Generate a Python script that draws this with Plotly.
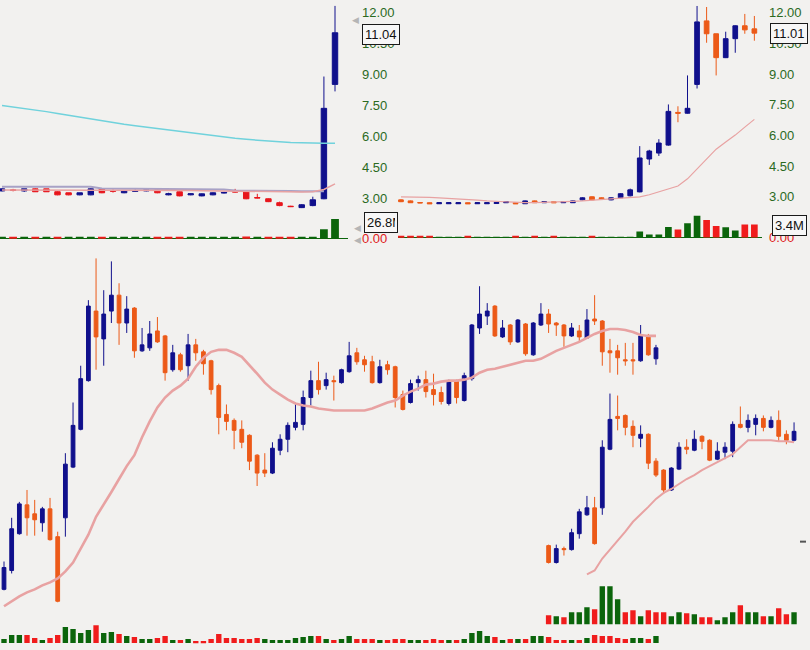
import plotly.graph_objects as go

# ---------------- DATA ----------------
# Top-left chart (daily candles, price in $)
tl_open = [3.38, 3.43, 3.38, 3.48, 3.48, 3.34, 3.29, 3.19, 3.19, 3.48, 3.39, 3.29, 3.36, 3.38, 3.43, 3.19,
           3.34, 3.19, 3.14, 3.19, 3.28, 3.35, 3.34, 3.06, 3.00, 2.81, 2.64, 2.57, 2.67, 3.00, 8.54]
tl_high = [3.50, 3.48, 3.48, 3.50, 3.48, 3.36, 3.29, 3.29, 3.50, 3.50, 3.45, 3.41, 3.45, 3.45, 3.48, 3.29,
           3.36, 3.26, 3.26, 3.31, 3.34, 3.48, 3.36, 3.24, 3.02, 2.86, 2.66, 2.74, 3.10, 8.92, 12.34]
tl_low = [3.36, 3.36, 3.33, 3.33, 3.33, 3.17, 3.17, 3.17, 3.17, 3.27, 3.30, 3.27, 3.34, 3.36, 3.27, 3.17,
          3.12, 3.17, 3.12, 3.17, 3.26, 3.31, 2.98, 3.02, 2.84, 2.64, 2.60, 2.55, 2.64, 2.98, 8.20]
tl_close = [3.48, 3.41, 3.48, 3.34, 3.34, 3.19, 3.19, 3.29, 3.48, 3.29, 3.37, 3.38, 3.39, 3.43, 3.29, 3.24,
            3.14, 3.24, 3.24, 3.29, 3.30, 3.33, 3.00, 3.04, 2.86, 2.67, 2.62, 2.71, 2.95, 7.38, 11.04]
tl_ma_long = [7.52, 7.45, 7.38, 7.30, 7.22, 7.13, 7.04, 6.95, 6.86, 6.77, 6.69, 6.61, 6.54, 6.47, 6.40, 6.32,
              6.25, 6.18, 6.11, 6.05, 5.98, 5.93, 5.88, 5.83, 5.79, 5.76, 5.73, 5.71, 5.70, 5.69, 5.69]
tl_ma_mid = [3.58, 3.58, 3.58, 3.58, 3.58, 3.58, 3.58, 3.58, 3.58, 3.50, 3.48, 3.48, 3.48, 3.48, 3.45, 3.45,
             3.45, 3.45, 3.45, 3.45, 3.45, 3.40, 3.40, 3.40, 3.40, 3.40, 3.38, 3.36, 3.35, 3.36]
tl_ma_short = [3.43, 3.43, 3.43, 3.43, 3.43, 3.43, 3.43, 3.43, 3.43, 3.43, 3.43, 3.43, 3.42, 3.42, 3.40, 3.40,
               3.40, 3.40, 3.39, 3.38, 3.38, 3.36, 3.36, 3.35, 3.34, 3.33, 3.33, 3.33, 3.34, 3.45, 3.72]
tl_vol = [1.0, 1.8, 1.2, 1.8, 1.8, 1.8, 1.2, 1.0, 1.2, 1.8, 1.0, 1.0, 1.0, 1.0, 1.8, 1.8,
          1.8, 1.0, 1.0, 1.0, 1.0, 1.8, 2.6, 1.8, 1.8, 1.8, 1.0, 1.0, 1.0, 12.7, 26.8]  # millions

# Top-right chart
tr_open = [2.85, 2.80, 2.72, 2.71, 2.66, 2.66, 2.66, 2.71, 2.66, 2.66, 2.67, 2.71, 2.71, 2.66, 2.80, 2.71,
           2.76, 2.71, 2.71, 2.85, 3.00, 2.95, 2.85, 2.95, 3.05, 3.24, 4.85, 5.14, 5.53, 7.13, 7.09, 8.50,
           11.61, 10.98, 9.81, 10.74, 11.37, 11.22]
tr_high = [2.88, 2.82, 2.74, 2.72, 2.72, 2.72, 2.72, 2.72, 2.72, 2.72, 2.74, 2.78, 2.72, 2.82, 2.82, 2.78,
           2.78, 2.78, 2.82, 2.98, 3.02, 2.97, 2.97, 3.18, 3.40, 5.48, 5.30, 5.82, 7.52, 7.43, 8.94, 12.34,
           12.29, 10.98, 11.08, 11.39, 11.95, 11.85]
tr_low = [2.74, 2.70, 2.69, 2.65, 2.65, 2.65, 2.65, 2.65, 2.65, 2.65, 2.66, 2.70, 2.65, 2.65, 2.70, 2.70,
          2.70, 2.70, 2.70, 2.83, 2.83, 2.88, 2.83, 2.93, 3.02, 3.22, 4.56, 5.00, 5.50, 6.65, 7.07, 8.30,
          10.54, 8.94, 9.79, 10.05, 10.98, 10.64]
tr_close = [2.76, 2.71, 2.70, 2.66, 2.71, 2.71, 2.71, 2.66, 2.71, 2.71, 2.72, 2.76, 2.66, 2.80, 2.71, 2.76,
            2.71, 2.76, 2.80, 2.95, 2.85, 2.90, 2.95, 3.15, 3.34, 4.90, 5.24, 5.63, 7.18, 7.09, 7.33, 11.56,
            10.98, 9.81, 10.74, 11.37, 11.17, 11.01]
tr_ma = [3.00, 3.00, 3.00, 2.97, 2.95, 2.93, 2.90, 2.87, 2.84, 2.80, 2.77, 2.74, 2.72, 2.71, 2.71, 2.72,
         2.73, 2.75, 2.78, 2.80, 2.83, 2.86, 2.90, 2.93, 2.96, 3.00, 3.10, 3.24, 3.39, 3.53, 3.88, 4.36,
         4.85, 5.33, 5.68, 6.02, 6.41, 6.79]
tr_vol = [0.45, 0.45, 0.45, 0.45, 0.2, 0.2, 0.2, 0.45, 0.2, 0.2, 0.2, 0.2, 0.45, 0.2, 0.45, 0.2,
          0.45, 0.2, 0.2, 0.2, 0.45, 0.2, 0.2, 0.2, 0.2, 1.57, 0.78, 0.78, 2.8, 2.1, 3.74, 5.75,
          4.6, 3.06, 2.7, 1.83, 3.4, 3.4]  # millions

# Bottom chart, first stock (sessions 1..86)
bl_open = [1.14, 1.52, 2.26, 2.84, 2.66, 2.48, 2.76, 2.20, 2.58, 3.60, 4.36, 5.34, 6.74, 6.18, 6.74, 7.06,
           6.50, 6.80, 5.94, 6.00, 6.34, 6.24, 5.56, 5.86, 5.64, 6.06, 5.92, 5.74, 5.24, 4.66, 4.54, 4.36,
           4.24, 3.84, 3.54, 3.48, 3.94, 4.16, 4.40, 4.46, 5.00, 5.34, 5.24, 5.34, 5.30, 5.52, 5.90, 5.76,
           5.72, 5.30, 5.66, 5.62, 5.06, 4.90, 5.30, 5.36, 5.16, 5.10, 4.88, 5.34, 4.94, 5.38, 6.40, 6.64,
           6.84, 6.22, 6.46, 6.12, 6.48, 5.86, 6.46, 6.68, 6.50, 6.46, 6.24, 6.34, 6.20, 6.58, 6.54, 5.94,
           5.94, 5.76, 5.76, 5.74, 6.24, 5.78]
bl_high = [1.70, 2.58, 2.90, 3.14, 2.94, 2.80, 2.98, 2.30, 3.88, 4.90, 5.64, 6.96, 7.80, 7.16, 7.74, 7.30,
           7.04, 6.82, 6.40, 6.54, 6.62, 6.26, 6.06, 5.90, 6.28, 6.18, 5.96, 5.76, 5.28, 4.86, 4.58, 4.54,
           4.26, 3.86, 3.88, 4.10, 4.26, 4.50, 4.88, 5.14, 5.54, 5.72, 5.50, 5.44, 5.58, 6.12, 6.00, 5.84,
           5.84, 5.76, 5.74, 5.64, 5.14, 5.36, 5.44, 5.54, 5.48, 5.22, 5.36, 5.36, 5.50, 6.48, 7.24, 6.90,
           6.86, 6.56, 6.48, 6.58, 6.50, 6.52, 6.90, 6.78, 6.52, 6.48, 6.50, 6.46, 6.78, 7.06, 6.56, 6.18,
           6.06, 6.10, 6.10, 6.46, 6.28, 6.06]
bl_low = [1.12, 1.46, 2.24, 2.22, 2.22, 2.30, 2.12, 0.88, 2.20, 3.58, 4.34, 5.32, 5.56, 5.64, 6.50, 6.06,
          6.30, 5.80, 5.92, 5.94, 6.10, 5.34, 5.52, 5.52, 5.34, 5.74, 5.46, 5.06, 4.26, 4.34, 3.96, 3.98,
          3.54, 3.22, 3.40, 3.46, 3.84, 3.90, 4.34, 4.34, 4.84, 5.06, 5.16, 4.94, 5.28, 5.50, 5.66, 5.52,
          5.28, 5.28, 5.46, 4.80, 4.74, 4.88, 5.14, 5.00, 4.84, 4.86, 4.84, 4.88, 4.92, 5.34, 6.28, 6.46,
          6.22, 6.20, 6.06, 6.10, 5.84, 5.84, 6.44, 6.30, 6.24, 6.02, 6.22, 6.14, 6.18, 6.46, 5.64, 5.50,
          5.46, 5.64, 5.46, 5.72, 5.84, 5.66]
bl_close = [1.58, 2.36, 2.86, 2.58, 2.54, 2.76, 2.14, 0.90, 3.66, 4.44, 5.38, 6.84, 6.22, 6.68, 7.06, 6.50,
            6.78, 5.94, 6.06, 6.28, 6.12, 5.50, 5.90, 5.56, 6.06, 5.90, 5.68, 5.16, 4.60, 4.52, 4.34, 4.10,
            3.72, 3.48, 3.48, 3.98, 4.16, 4.44, 4.50, 5.00, 5.34, 5.16, 5.36, 5.32, 5.56, 5.84, 5.72, 5.66,
            5.30, 5.62, 5.56, 5.00, 4.76, 5.28, 5.36, 5.12, 5.06, 4.92, 5.34, 5.00, 5.44, 6.46, 6.68, 6.74,
            6.24, 6.40, 6.12, 6.56, 5.88, 6.50, 6.68, 6.48, 6.46, 6.24, 6.40, 6.22, 6.56, 6.54, 5.92, 5.90,
            5.80, 5.74, 5.74, 6.24, 5.86, 6.00]
bl_ma = [0.80, 0.90, 1.00, 1.08, 1.14, 1.22, 1.28, 1.36, 1.50, 1.68, 1.96, 2.24, 2.60, 2.84, 3.10, 3.36,
         3.62, 3.84, 4.20, 4.52, 4.80, 5.00, 5.14, 5.24, 5.38, 5.62, 5.80, 5.92, 5.96, 5.96, 5.90, 5.82,
         5.66, 5.48, 5.30, 5.16, 5.06, 4.96, 4.88, 4.84, 4.82, 4.78, 4.76, 4.74, 4.74, 4.74, 4.74, 4.74,
         4.78, 4.84, 4.90, 4.94, 5.04, 5.12, 5.18, 5.26, 5.28, 5.32, 5.34, 5.34, 5.36, 5.40, 5.50, 5.56,
         5.58, 5.62, 5.66, 5.70, 5.74, 5.74, 5.78, 5.86, 5.94, 6.00, 6.06, 6.12, 6.20, 6.28, 6.34, 6.38,
         6.38, 6.36, 6.32, 6.26, 6.24, 6.24]
bl_vol = [4, 8, 8, 8, 5, 3, 5, 8, 16, 14, 10, 13, 18, 10, 11, 9, 7, 6, 4, 4, 5, 7, 3, 3, 4, 2, 2, 4, 9, 5,
          5, 4, 4, 5, 4, 3, 3, 3, 5, 6, 7, 7, 4, 3, 4, 7, 4, 4, 4, 3, 3, 4, 4, 3, 3, 3, 4, 3, 3, 3,
          4, 10, 12, 7, 6, 3, 4, 4, 4, 7, 7, 6, 3, 3, 3, 3, 5, 8, 7, 7, 5, 4, 5, 5, 4, 7]
bl_session = list(range(1, 87))

# Bottom chart, second stock (overlaid from session 72)
br_open = [2.02, 1.68, 1.96, 1.94, 2.26, 2.64, 2.78, 2.78, 3.96, 4.62, 4.64, 4.42, 4.18, 4.26, 3.72, 3.54,
           3.14, 3.56, 4.00, 3.94, 4.22, 4.14, 3.76, 3.90, 3.92, 4.46, 4.40, 4.46, 4.58, 4.40, 4.54, 4.26, 4.14]
br_high = [2.04, 2.04, 2.00, 2.36, 2.76, 3.02, 3.00, 4.14, 5.08, 5.04, 4.66, 4.54, 4.44, 4.28, 3.78, 3.56,
           3.60, 4.10, 4.16, 4.34, 4.24, 4.16, 4.10, 4.10, 4.52, 4.82, 4.66, 4.66, 4.64, 4.62, 4.74, 4.34, 4.50]
br_low = [1.66, 1.66, 1.82, 1.92, 2.16, 2.62, 2.04, 2.64, 3.94, 4.34, 4.24, 4.00, 4.00, 3.56, 3.40, 3.06,
          3.12, 3.54, 3.86, 3.92, 3.96, 3.72, 3.74, 3.76, 3.80, 4.38, 4.30, 4.24, 4.32, 4.38, 4.12, 4.06, 4.12]
br_close = [1.68, 1.96, 1.94, 2.28, 2.70, 2.78, 2.06, 4.00, 4.56, 4.58, 4.40, 4.24, 4.26, 3.68, 3.44, 3.14,
            3.58, 4.00, 3.96, 4.16, 4.12, 3.74, 3.92, 4.00, 4.46, 4.40, 4.54, 4.58, 4.40, 4.54, 4.22, 4.14, 4.32]
br_ma = [None, None, None, None, None, 1.44, 1.52, 1.76, 1.94, 2.10, 2.30, 2.50, 2.64, 2.80, 2.96, 3.08,
         3.16, 3.26, 3.36, 3.44, 3.54, 3.62, 3.70, 3.78, 3.86, 4.00, 4.14, 4.14, 4.14, 4.14, 4.12, 4.12, 4.10]
br_vol = [9, 8, 7, 12, 12, 17, 15, 38, 38, 25, 12, 14, 8, 14, 12, 12, 8, 12, 11, 10, 7, 7, 4, 7, 12, 19,
          12, 12, 8, 8, 16, 10, 12]
br_session = list(range(72, 105))

price_ticks = [3.0, 4.5, 6.0, 7.5, 9.0, 10.5, 12.0]

# ---------------- STYLE ----------------
BG = "#f2f1ef"
BLUE = "#10108c"
ORANGE = "#ec5a18"
RED_C = "#e8161c"
VGREEN = "#0b650b"
VRED = "#f01c1c"
PINK = "#e8a2a2"
CYAN = "#70d2dc"
LAV = "#a8a2c6"
TICK_GREEN = "#2b6a1e"
FONT = "Liberation Sans"
W, H = 810, 650


def px(x):
    return x / W


def py(y):
    return 1 - y / H


def vol_colors(opens, closes):
    cols = []
    for k, c in enumerate(closes):
        prev = closes[k - 1] if k > 0 else opens[0]
        cols.append(VRED if c < prev else VGREEN)
    return cols


def candle(x, o, h, l, c, down, xa, ya):
    return go.Candlestick(
        x=x, open=o, high=h, low=l, close=c, xaxis=xa, yaxis=ya, whiskerwidth=0,
        increasing=dict(line=dict(color=BLUE, width=1), fillcolor=BLUE),
        decreasing=dict(line=dict(color=down, width=1), fillcolor=down),
    )


fig = go.Figure()

# top-left
tl_x = list(range(len(tl_open)))
fig.add_trace(candle(tl_x, tl_open, tl_high, tl_low, tl_close, RED_C, "x", "y"))
fig.add_trace(go.Scatter(x=tl_x, y=tl_ma_long, mode="lines", line=dict(color=CYAN, width=1.5), xaxis="x", yaxis="y"))
fig.add_trace(go.Scatter(x=tl_x[:len(tl_ma_mid)], y=tl_ma_mid, mode="lines", line=dict(color=LAV, width=2), xaxis="x", yaxis="y"))
fig.add_trace(go.Scatter(x=tl_x, y=tl_ma_short, mode="lines", line=dict(color=PINK, width=1.5), xaxis="x", yaxis="y"))
fig.add_trace(go.Bar(x=tl_x, y=tl_vol, marker=dict(color=vol_colors(tl_open, tl_close), line=dict(width=0)), xaxis="x", yaxis="y2"))

# top-right
tr_x = list(range(len(tr_open)))
fig.add_trace(candle(tr_x, tr_open, tr_high, tr_low, tr_close, ORANGE, "x2", "y3"))
fig.add_trace(go.Scatter(x=tr_x, y=tr_ma, mode="lines", line=dict(color=PINK, width=1.2), xaxis="x2", yaxis="y3"))
fig.add_trace(go.Bar(x=tr_x, y=tr_vol, marker=dict(color=vol_colors(tr_open, tr_close), line=dict(width=0)), xaxis="x2", yaxis="y4"))

# bottom
fig.add_trace(go.Bar(x=bl_session, y=bl_vol, marker=dict(color=vol_colors(bl_open, bl_close), line=dict(width=0)), xaxis="x3", yaxis="y6"))
fig.add_trace(go.Bar(x=br_session, y=br_vol, marker=dict(color=vol_colors(br_open, br_close), line=dict(width=0)), xaxis="x3", yaxis="y7"))
fig.add_trace(candle(bl_session, bl_open, bl_high, bl_low, bl_close, ORANGE, "x3", "y5"))
fig.add_trace(go.Scatter(x=bl_session, y=bl_ma, mode="lines", line=dict(color=PINK, width=2.6), xaxis="x3", yaxis="y5"))
fig.add_trace(candle(br_session, br_open, br_high, br_low, br_close, ORANGE, "x3", "y5"))
fig.add_trace(go.Scatter(x=br_session, y=br_ma, mode="lines", line=dict(color=PINK, width=2), xaxis="x3", yaxis="y5"))

hidden = dict(visible=False, showgrid=False, zeroline=False, fixedrange=True)
tick_font = dict(family=FONT, size=13, color=TICK_GREEN)
price_axis = dict(side="right", showgrid=False, zeroline=False, showline=False, ticks="",
                  tickvals=price_ticks, ticktext=[f"{v:.2f}" for v in price_ticks],
                  tickfont=tick_font, fixedrange=True)
vol_axis = dict(side="right", showgrid=False, showline=False, ticks="", tickvals=[0], ticktext=["0.00"],
                tickfont=dict(family=FONT, size=13, color="#e02020"), zeroline=True,
                zerolinecolor=VGREEN, zerolinewidth=1, fixedrange=True)

fig.update_layout(
    width=W, height=H, margin=dict(l=0, r=0, t=0, b=0),
    paper_bgcolor=BG, plot_bgcolor="rgba(0,0,0,0)", showlegend=False, hovermode=False,
    bargap=0.3, boxmode="overlay",
    xaxis=dict(hidden, domain=[0, px(348)], range=[-0.18, 31.17], anchor="y", rangeslider=dict(visible=False)),
    yaxis=dict(price_axis, domain=[py(210), 1], range=[2.519, 12.626], anchor="x", ticklabelstandoff=13),
    yaxis2=dict(vol_axis, domain=[py(245), py(210)], range=[-7.0, 40.9], anchor="x", ticklabelstandoff=13),
    xaxis2=dict(hidden, domain=[px(398), px(762)], range=[-0.31, 37.8], anchor="y3", rangeslider=dict(visible=False)),
    yaxis3=dict(price_axis, domain=[py(208), 1], range=[2.514, 12.632], anchor="x2", ticklabelstandoff=6),
    yaxis4=dict(vol_axis, domain=[py(243), py(210)], range=[-1.05, 7.58], anchor="x2", ticklabelstandoff=6),
    xaxis3=dict(hidden, domain=[0, 1], range=[0.478, 106.08], anchor="y5", rangeslider=dict(visible=False)),
    yaxis5=dict(hidden, domain=[0, py(255)], range=[0, 7.9], anchor="x3"),
    yaxis6=dict(hidden, domain=[0, py(600)], range=[-3, 47], anchor="x3"),
    yaxis7=dict(hidden, domain=[0, py(580)], range=[-22, 48], anchor="x3"),
)

box = dict(xref="paper", yref="paper", showarrow=False, xanchor="left", yanchor="middle",
           bgcolor="#f7f7f7", bordercolor="#1a1a1a", borderwidth=1, borderpad=2,
           font=dict(family=FONT, size=13, color="#111111"))
fig.add_annotation(box, x=px(362), y=py(35), text=f"{tl_close[-1]:.2f}")
fig.add_annotation(box, x=px(364), y=py(224), text=f"{tl_vol[-1]:.1f}M", width=28, align="left")
fig.add_annotation(box, x=px(770), y=py(34), text=f"{tr_close[-1]:.2f}")
fig.add_annotation(box, x=px(772), y=py(227), text=f"{tr_vol[-1]:.1f}M")

tri = dict(xref="paper", yref="paper", showarrow=False, text="◀", font=dict(family="DejaVu Sans", size=9, color="#b5b5b5"))
for (tx, ty) in [(355, 13), (357, 229), (357, 241)]:
    fig.add_annotation(tri, x=px(tx), y=py(ty))

fig.add_shape(type="line", xref="paper", yref="paper", x0=px(800), x1=px(806), y0=py(545), y1=py(545),
              line=dict(color="#555555", width=2))

fig.write_html("out.html", config=dict(displayModeBar=False),
               post_script="document.body.style.margin='0';document.body.style.overflow='hidden';")
